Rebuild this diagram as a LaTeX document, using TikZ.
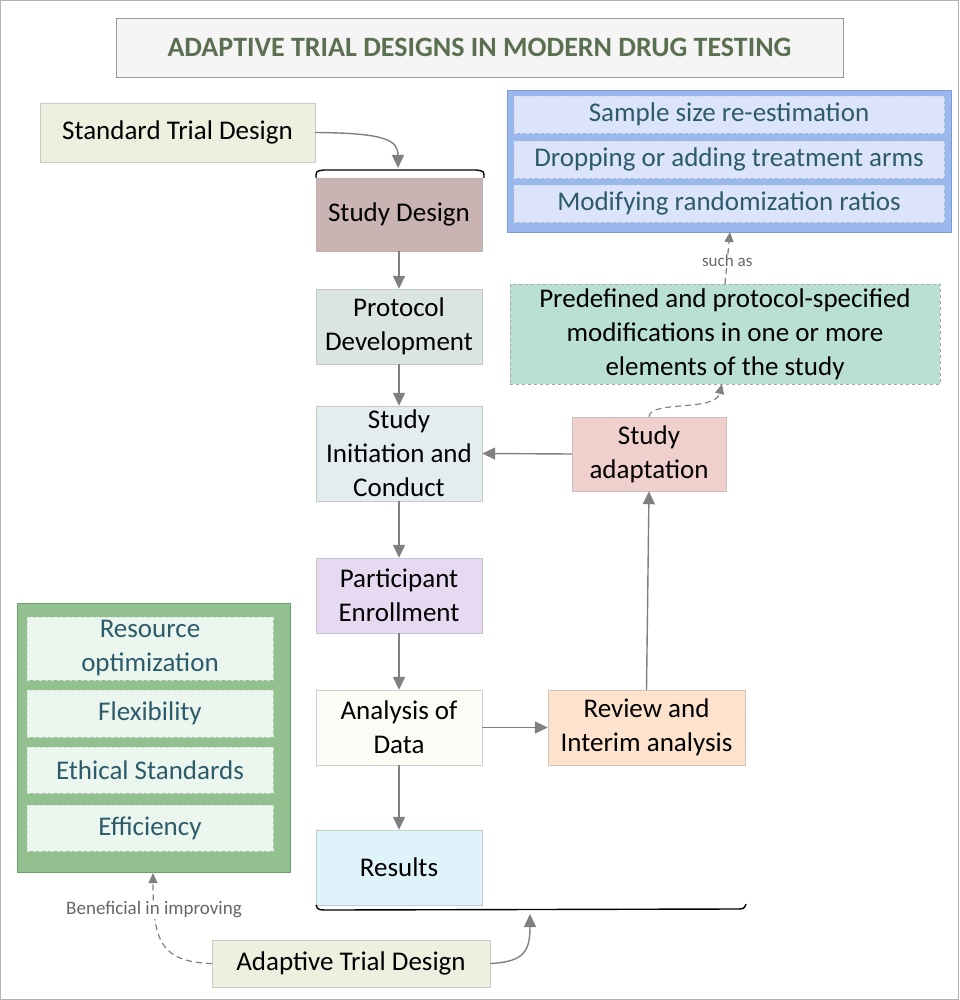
\documentclass[tikz,border=0pt]{standalone}
\usepackage{fontspec}
\setmainfont{Carlito}
\usetikzlibrary{arrows.meta}
\definecolor{arr}{HTML}{808080}
\definecolor{txtb}{HTML}{2D5B6B}
\definecolor{cstd}{HTML}{EBF1DE}
\definecolor{csd}{HTML}{C9B3B3}
\definecolor{cpd}{HTML}{DBE5DF}
\definecolor{csi}{HTML}{E3ECEE}
\definecolor{cpe}{HTML}{E8D9F2}
\definecolor{cad}{HTML}{FDFBF5}
\definecolor{cres}{HTML}{DFF3FA}
\definecolor{crev}{HTML}{FDE3CD}
\definecolor{csa}{HTML}{F0D0CC}
\definecolor{cpre}{HTML}{B9E0D2}
\definecolor{cbp}{HTML}{9AB8EC}
\definecolor{cbpd}{HTML}{7A9AD8}
\definecolor{cbi}{HTML}{DBE4FA}
\definecolor{cgp}{HTML}{92C08E}
\definecolor{cgpd}{HTML}{6EA06E}
\definecolor{cgi}{HTML}{EAF6EE}
\definecolor{ctitle}{HTML}{5A7050}
\begin{document}
\begin{tikzpicture}[x=1pt,y=-1pt,
 box/.style={draw=#1!70!black!60, fill=#1, align=center, inner sep=0pt, font=\fontsize{27}{34}\selectfont},
 ib/.style={draw=#1!70!black!40, dashed, fill=#1, align=center, inner sep=0pt, text=txtb, font=\fontsize{27}{34}\selectfont},
 ar/.style={draw=arr, line width=1.4pt, -{Triangle[length=13pt,width=12pt]}},
 dar/.style={draw=arr, line width=1.2pt, dash pattern=on 6pt off 4pt, -{Triangle[length=10pt,width=9pt]}}]
\path[use as bounding box, fill=white] (0,0) rectangle (959,1000);
\draw[gray!60] (0.5,0.5) rectangle (958.5,999.5);
% title
\node[draw=gray!80, fill=gray!8, minimum width=727, minimum height=59, text=ctitle, font=\bfseries\fontsize{28}{32}\selectfont] (title) at (479.5,47.5) {ADAPTIVE TRIAL DESIGNS IN MODERN DRUG TESTING};
% left main column
\node[box=cstd, minimum width=275, minimum height=59] (std) at (177.5,132.5) {Standard Trial Design};
\node[box=csd, minimum width=166, minimum height=73] (sd) at (399,214.5) {Study Design};
\node[box=cpd, minimum width=166, minimum height=75] (pd) at (399,326.5) {Protocol\\Development};
\node[box=csi, minimum width=166, minimum height=95] (si) at (399,453.5) {Study\\Initiation and\\Conduct};
\node[box=cpe, minimum width=166, minimum height=75] (pe) at (399,595.5) {Participant\\Enrollment};
\node[box=cad, minimum width=166, minimum height=75] (ad) at (399,727.5) {Analysis of\\Data};
\node[box=cres, minimum width=166, minimum height=75] (res) at (399,867.5) {Results};
\node[box=cstd, minimum width=278, minimum height=47] (atd) at (351,963.5) {Adaptive Trial Design};
% right
\node[box=crev, minimum width=197, minimum height=75] (rev) at (646.5,727.5) {Review and\\Interim analysis};
\node[box=csa, minimum width=154, minimum height=74] (sa) at (649,454) {Study\\adaptation};
\node[draw=gray!70, dashed, fill=cpre, minimum width=430, minimum height=100, align=center, inner sep=0pt, font=\fontsize{27}{34}\selectfont] (pre) at (725,334) {Predefined and protocol-specified\\modifications in one or more\\elements of the study};
% blue panel
\node[draw=cbpd, fill=cbp, minimum width=444, minimum height=142, inner sep=0pt] (bp) at (729,161) {};
\node[ib=cbi, minimum width=430, minimum height=37] (b1) at (729,114.5) {Sample size re-estimation};
\node[ib=cbi, minimum width=430, minimum height=37] (b2) at (729,159.5) {Dropping or adding treatment arms};
\node[ib=cbi, minimum width=430, minimum height=37] (b3) at (729,203.5) {Modifying randomization ratios};
% green panel
\node[draw=cgpd, fill=cgp, minimum width=273, minimum height=269, inner sep=0pt] (gp) at (153.5,737.5) {};
\node[ib=cgi, minimum width=246, minimum height=63] (g1) at (150,648.5) {Resource\\optimization};
\node[ib=cgi, minimum width=246, minimum height=47] (g2) at (150,713.5) {Flexibility};
\node[ib=cgi, minimum width=246, minimum height=46] (g3) at (150,770) {Ethical Standards};
\node[ib=cgi, minimum width=246, minimum height=46] (g4) at (150,828) {Efficiency};
% brackets
\coordinate (bt1) at (316,178); \coordinate (bt2) at (484,178);
\draw[line width=1.4pt] (bt1) .. controls (316,171) .. (324,170) -- (476,170) .. controls (484,171) .. (bt2);
\coordinate (bb1) at (316,905); \coordinate (bb2) at (746,904);
\draw[line width=1.4pt] (bb1) .. controls (318,910) .. (330,910) -- (735,909) .. controls (744,909) .. (bb2);
% connectors
\coordinate (sdtop) at (398,168);
\draw[ar] (std.east) .. controls (385,133) and (398,140) .. (sdtop);
\draw[ar] (sd) -- (pd);
\draw[ar] (pd) -- (si);
\draw[ar] (si) -- (pe);
\draw[ar] (pe) -- (ad);
\draw[ar] (ad) -- (res);
\draw[ar] (ad) -- (rev);
\draw[ar] (rev.north) -- (sa.south);
\draw[ar] (sa.west) -- (si.east);
\coordinate (prebot) at (722,384);
\draw[dar] (sa.north) .. controls (650,400) and (715,412) .. (prebot);
\coordinate (prebtop) at (725,284);
\coordinate (bpbot) at (730,232);
\draw[dar] (prebtop) -- (bpbot) node[pos=0.45, fill=white, inner sep=1pt, text=gray!80!black, font=\fontsize{17}{20}\selectfont] {such as};
\coordinate (bbend) at (530,914);
\draw[ar] (atd.east) .. controls (525,962) and (530,950) .. (bbend);
\coordinate (gpbot) at (153,873);
\draw[dar] (atd.west) .. controls (160,962) and (153,940) .. (gpbot);
\node[fill=white, inner sep=1pt, text=gray!80!black, font=\fontsize{19}{22}\selectfont] (lbl) at (154,910) {Beneficial in improving};
\end{tikzpicture}
\end{document}
